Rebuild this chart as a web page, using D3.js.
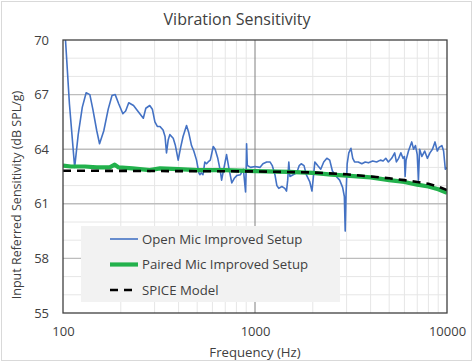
<!DOCTYPE html>
<html>
<head>
<meta charset="utf-8">
<script src="https://cdn.jsdelivr.net/npm/d3@7"></script>
<style>
  body { margin: 0; background: #fff; }
  svg { display: block; font-family: "Open Sans", sans-serif; }
</style>
</head>
<body>
<div id="chart"></div>
<script>
// open mic: [frequency Hz, dB SPL/g]
const openMic = [
  [101, 71.5], [108, 66.5], [115, 63.0], [120, 64.8], [126, 66.3], [132, 67.1], [138, 67.0],
  [143, 66.2], [150, 65.0], [155, 64.3], [163, 65.0], [172, 66.2], [180, 66.95], [187, 67.0],
  [195, 66.5], [205, 65.95], [212, 66.1], [220, 66.55], [233, 66.4], [245, 66.1], [262, 65.7],
  [270, 66.25], [283, 66.4], [292, 66.2], [301, 65.5], [310, 65.25], [320, 65.25], [332, 65.05],
  [340, 64.7], [346, 63.8], [353, 64.5], [360, 64.8], [375, 64.6], [385, 64.2], [398, 63.4],
  [410, 64.1], [422, 64.7], [440, 65.3], [452, 64.9], [467, 64.2], [480, 63.9], [496, 63.4],
  [510, 62.7], [516, 62.6], [525, 62.7], [536, 62.6], [548, 63.3], [559, 63.2], [570, 63.3],
  [585, 63.4], [606, 64.15], [620, 64.0], [640, 63.5], [660, 62.8], [670, 62.3], [690, 63.0],
  [711, 63.7], [730, 63.0], [757, 62.15], [780, 62.4], [804, 62.55], [840, 62.6], [870, 62.9],
  [893, 61.65], [900, 63.0], [904, 64.3], [912, 63.1], [950, 63.0], [1000, 63.05], [1061, 63.0],
  [1100, 63.2], [1150, 63.3], [1197, 63.3], [1230, 63.1], [1270, 62.6], [1300, 62.0],
  [1330, 61.85], [1380, 61.95], [1430, 61.85], [1459, 61.7], [1480, 62.3], [1500, 63.3],
  [1520, 62.5], [1580, 62.6], [1650, 62.7], [1700, 63.1], [1740, 63.2], [1800, 63.1],
  [1850, 62.6], [1930, 62.2], [1980, 61.7], [2050, 63.3], [2120, 63.1], [2200, 62.9],
  [2280, 63.3], [2367, 63.5], [2450, 63.4], [2530, 62.8], [2650, 62.5], [2760, 62.3],
  [2860, 61.9], [2920, 61.4], [2950, 59.5], [2980, 61.5], [3020, 63.2], [3080, 63.8],
  [3160, 64.05], [3230, 63.5], [3300, 63.3], [3450, 63.3], [3600, 63.2], [3750, 63.3],
  [3900, 63.25], [4100, 63.35], [4300, 63.3], [4500, 63.4], [4650, 63.35], [4800, 63.5],
  [4950, 63.3], [5150, 63.5], [5340, 63.8], [5450, 63.3], [5600, 63.5], [5750, 63.8],
  [5900, 63.5], [6000, 63.6], [6050, 62.5], [6120, 63.4], [6300, 63.9], [6550, 64.4],
  [6700, 64.0], [6850, 64.2], [7000, 63.7], [7100, 62.3], [7200, 64.0], [7400, 63.6],
  [7650, 63.9], [7900, 63.5], [8150, 63.8], [8400, 64.0], [8660, 64.4], [8900, 63.9],
  [9100, 64.1], [9400, 64.2], [9600, 63.9], [9800, 62.9], [9950, 63.0]
]

const pairedMic = [
  [100, 63.1], [110, 63.05], [130, 63.05], [150, 63.0], [175, 63.0], [186, 63.15], [195, 63.0],
  [230, 62.95], [283, 62.85], [320, 62.95], [400, 62.9], [500, 62.85], [700, 62.85],
  [1000, 62.8], [1500, 62.75], [2000, 62.7], [2500, 62.6], [3000, 62.55], [4000, 62.45],
  [5000, 62.3], [6000, 62.2], [7000, 62.05], [8000, 61.95], [9000, 61.8], [10000, 61.6]
]

const spiceModel = [
  [100, 62.82], [1000, 62.78], [2000, 62.72], [3000, 62.62], [4000, 62.5], [5000, 62.4],
  [6000, 62.3], [7000, 62.2], [8000, 62.1], [9000, 61.95], [10000, 61.75]
]

const xTicks = [100, 1000, 10000]
const yTicks = [55, 58, 61, 64, 67, 70]
const seriesNames = ["Open Mic Improved Setup", "Paired Mic Improved Setup", "SPICE Model"]

const width = 474, height = 363
const margin = {top: 40, right: 27, bottom: 50, left: 63}
const font = "'Open Sans', sans-serif"

const svg = d3.select("#chart").append("svg")
  .attr("width", width)
  .attr("height", height)

// outer chart border
svg.append("rect")
  .attr("x", 1.5).attr("y", 1.5)
  .attr("width", width - 4).attr("height", height - 4)
  .attr("fill", "#fff").attr("stroke", "#d9d9d9")

const x = d3.scaleLog()
  .domain([100, 10000])
  .range([margin.left, width - margin.right])
const y = d3.scaleLinear()
  .domain([55, 70])
  .range([height - margin.bottom, margin.top])

// minor grid
const minorX = []
for (let d = 100; d < 10000; d *= 10)
  for (let k = 2; k < 10; k++) minorX.push(d * k)
svg.append("g").selectAll("line")
  .data(minorX)
  .join("line")
  .attr("x1", d => x(d)).attr("x2", d => x(d))
  .attr("y1", y(55)).attr("y2", y(70))
  .attr("stroke", "#e6e6e6")

svg.append("g").selectAll("line")
  .data(d3.range(56, 70).filter(d => !yTicks.includes(d)))
  .join("line")
  .attr("x1", x(100)).attr("x2", x(10000))
  .attr("y1", d => y(d)).attr("y2", d => y(d))
  .attr("stroke", "#e6e6e6")

// major grid
svg.append("g").selectAll("line")
  .data(yTicks.slice(1, -1))
  .join("line")
  .attr("x1", x(100)).attr("x2", x(10000))
  .attr("y1", d => y(d)).attr("y2", d => y(d))
  .attr("stroke", "#bdbdbd").attr("stroke-width", 1.4)

svg.append("line")
  .attr("x1", x(1000)).attr("x2", x(1000))
  .attr("y1", y(55)).attr("y2", y(70))
  .attr("stroke", "#808080")

// legend box (drawn under the series)
const legend = svg.append("g").attr("transform", "translate(81,226)")
legend.append("rect")
  .attr("width", 259).attr("height", 76)
  .attr("fill", "#f2f2f2")

svg.append("clipPath").attr("id", "plot-clip")
  .append("rect")
  .attr("x", x(100)).attr("y", y(70))
  .attr("width", x(10000) - x(100)).attr("height", y(55) - y(70))

const line = d3.line()
  .x(d => x(d[0]))
  .y(d => y(d[1]))

const plot = svg.append("g").attr("clip-path", "url(#plot-clip)")
plot.append("path")
  .datum(openMic)
  .attr("d", line)
  .attr("fill", "none").attr("stroke", "#4472c4").attr("stroke-width", 1.6)
  .attr("stroke-linejoin", "round")
plot.append("path")
  .datum(pairedMic)
  .attr("d", line)
  .attr("fill", "none").attr("stroke", "#22b14c").attr("stroke-width", 4.2)
  .attr("stroke-linejoin", "round")
plot.append("path")
  .datum(spiceModel)
  .attr("d", line)
  .attr("fill", "none").attr("stroke", "#000").attr("stroke-width", 2.6)
  .attr("stroke-dasharray", "8,6")

// plot frame
svg.append("rect")
  .attr("x", x(100)).attr("y", y(70))
  .attr("width", x(10000) - x(100)).attr("height", y(55) - y(70))
  .attr("fill", "none").attr("stroke", "#404040").attr("stroke-width", 1.3)

// axes
const xAxis = svg.append("g")
  .attr("transform", `translate(0,${y(55)})`)
  .call(d3.axisBottom(x).tickValues(xTicks).tickFormat(d3.format("d")).tickSize(0).tickPadding(14))
xAxis.select(".domain").remove()
const yAxis = svg.append("g")
  .attr("transform", `translate(${x(100)},0)`)
  .call(d3.axisLeft(y).tickValues(yTicks).tickSize(0).tickPadding(14))
yAxis.select(".domain").remove()
svg.selectAll(".tick text")
  .attr("font-family", font)
  .attr("font-size", 13).attr("fill", "#404040")

svg.append("text")
  .attr("x", 237).attr("y", 25)
  .attr("text-anchor", "middle")
  .attr("font-size", 16).attr("fill", "#404040")
  .text("Vibration Sensitivity")

svg.append("text")
  .attr("x", 255).attr("y", 357)
  .attr("text-anchor", "middle")
  .attr("font-size", 13.2).attr("fill", "#404040")
  .text("Frequency (Hz)")

svg.append("text")
  .attr("transform", "translate(21,195) rotate(-90)")
  .attr("text-anchor", "middle")
  .attr("font-size", 12.5).attr("fill", "#404040")
  .text("Input Referred Sensitivity (dB SPL/g)")

// legend entries
const legendStyles = [
  {stroke: "#4472c4", width: 1.6, dash: null},
  {stroke: "#22b14c", width: 4.2, dash: null},
  {stroke: "#000", width: 2.6, dash: "8,6"}
]
const rows = legend.selectAll("g.row")
  .data(seriesNames)
  .join("g")
  .attr("class", "row")
  .attr("transform", (d, i) => `translate(0,${13 + i * 25.5})`)
rows.append("line")
  .attr("x1", 29).attr("x2", 57)
  .attr("stroke", (d, i) => legendStyles[i].stroke)
  .attr("stroke-width", (d, i) => legendStyles[i].width)
  .attr("stroke-dasharray", (d, i) => legendStyles[i].dash)
rows.append("text")
  .attr("x", 61).attr("dy", "0.35em")
  .attr("font-size", 13.2).attr("fill", "#404040")
  .text(d => d)
</script>
</body>
</html>
